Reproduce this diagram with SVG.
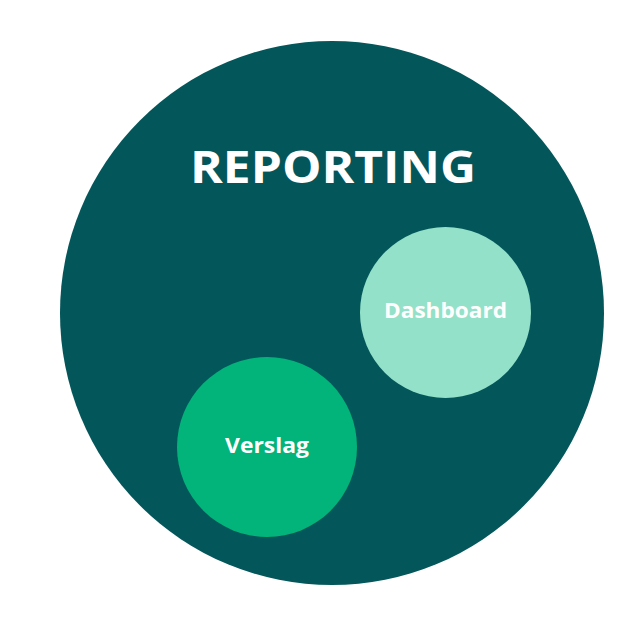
<svg xmlns="http://www.w3.org/2000/svg" width="644" height="627" viewBox="0 0 644 627">
<style>
.lbl{font-family:"Open Sans","Liberation Sans",sans-serif;font-weight:bold;fill:#ffffff;text-anchor:middle}
</style>
<rect width="644" height="627" fill="#ffffff"/>
<g id="reporting">
<circle cx="332" cy="313" r="272" fill="#03565A"/>
<text class="lbl" x="333" y="183" font-size="44" textLength="286" lengthAdjust="spacingAndGlyphs">REPORTING</text>
</g>
<g id="dashboard">
<circle cx="445.5" cy="312.5" r="85.5" fill="#93E1C9"/>
<text class="lbl" x="445.5" y="318" font-size="21" textLength="123" lengthAdjust="spacingAndGlyphs">Dashboard</text>
</g>
<g id="verslag">
<circle cx="267" cy="447" r="90" fill="#03B47A"/>
<text class="lbl" x="267" y="453" font-size="21" textLength="84" lengthAdjust="spacingAndGlyphs">Verslag</text>
</g>
<g id="connectors"/>
</svg>
